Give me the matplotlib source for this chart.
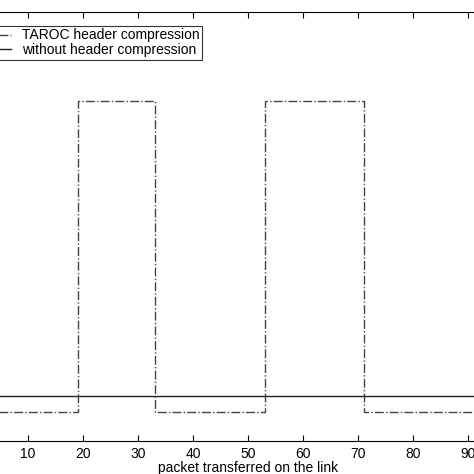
import matplotlib
matplotlib.use("Agg")
import matplotlib.pyplot as plt

# step profile of header size per packet (values in axis units, no y ticks shown)
taroc_x = [0, 19, 19, 33, 33, 53, 53, 71, 71, 100]
taroc_y = [6.8, 6.8, 79.3, 79.3, 6.8, 6.8, 79.3, 79.3, 6.8, 6.8]
plain_x = [0, 100]
plain_y = [10.5, 10.5]
xticks = [10, 20, 30, 40, 50, 60, 70, 80, 90]

plt.rcParams["font.family"] = ["Liberation Sans", "DejaVu Sans"]
fig = plt.figure(figsize=(4.74, 4.74), dpi=100)
ax = fig.add_axes([-27 / 474, 33 / 474, 550 / 474, 429 / 474])
ax.plot(taroc_x, taroc_y, color="#444444", linestyle="-.", linewidth=1.0, label="TAROC header compression")
ax.plot(plain_x, plain_y, color="#222222", linestyle="-", linewidth=1.0, label="without header compression")
ax.set_xlim(0, 100)
ax.set_ylim(0, 100)
ax.set_xticks(xticks)
ax.set_yticks([])
ax.tick_params(axis="x", direction="in", top=True, labelsize=10, length=4, pad=4)
ax.set_xlabel("packet transferred on the link", fontsize=10, labelpad=0)
leg = ax.legend(loc="upper left", bbox_to_anchor=(0.0, 0.978), fontsize=10, frameon=True,
                fancybox=False, borderpad=0.2, labelspacing=0.05, handlelength=2.2,
                borderaxespad=0.3)
leg.get_frame().set_edgecolor("black")
leg.get_frame().set_linewidth(0.8)
fig.savefig("out.png", dpi=100)
